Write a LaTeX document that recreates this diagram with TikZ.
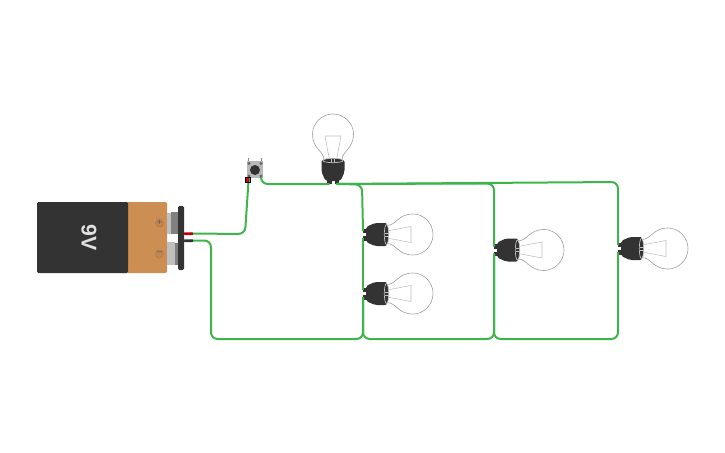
\documentclass[tikz,border=0pt]{standalone}
\usepackage{fontspec}
\setmainfont{Liberation Sans}
\definecolor{wiregreen}{HTML}{3DB54A}
\definecolor{socket}{HTML}{333333}
\definecolor{battorange}{HTML}{CD8E54}
\definecolor{glassline}{HTML}{A0A0A0}
\tikzset{
  wire/.style={draw=wiregreen, line width=1.5pt, rounded corners=5pt},
  glass/.style={draw=glassline, line width=.45pt},
  filament/.style={draw=glassline!70, line width=.4pt},
  terminal/.style={circle, draw=battorange!85!black, fill=battorange!95!black, minimum size=6pt, inner sep=0pt, font=\fontsize{7pt}{7pt}\selectfont, text=black!65},
  bulb/.pic={
    \fill [socket] (0,-6) rectangle (5,-1.5);
    \fill [socket] (0,1.5) rectangle (5,6);
    \fill [socket, rounded corners=1.5pt] (3,-7.5) -- (12,-11.5) -- (24,-11.5) -- (24,11.5) -- (12,11.5) -- (3,7.5) -- cycle;
    \draw [glass] (24,-9) .. controls (33,-9) and (35,-20.5) .. (50,-20.5)
      .. controls (61,-20.5) and (70,-11) .. (70,0)
      .. controls (70,11) and (61,20.5) .. (50,20.5)
      .. controls (35,20.5) and (33,9) .. (24,9);
    \draw [filament] (24,-3.5) -- (48,-8) -- (48,8) -- (24,3.5);
    \draw [draw=white!75!black, line width=.5pt, fill=socket] (23.5,0) ellipse (2.2 and 10);
    \draw [draw=white!75!black, line width=.4pt] (21.5,-1.5) -- (25.5,-1.5) (21.5,1.5) -- (25.5,1.5);
    \coordinate (-a) at (0,-3.5);
    \coordinate (-b) at (0,3.5);
  }
}
\begin{document}
\begin{tikzpicture}[x=.75pt, y=-.75pt]
  \useasboundingbox (0,0) rectangle (725,453);

  % battery
  \fill [battorange, rounded corners=1pt] (120,202) rectangle (167,273);
  \fill [socket, rounded corners=1pt] (37,202) -- (128,202) -- (128,273) -- (37,273) -- cycle;
  \node [rotate=-90, text=white!88!black, font=\bfseries\fontsize{16pt}{17pt}\selectfont, inner sep=0pt] (label) at (89,238) {9V};
  \node [terminal] (plus) at (159.5,223) {+};
  \node [terminal] (minus) at (159.5,254) {−};
  \fill [black!25] (167,213) rectangle (171,234);
  \fill [black!50] (171,212) rectangle (178,234);
  \fill [black!25] (167,242) rectangle (175,265);
  \fill [black!50] (175,243) rectangle (178,265);
  \fill [socket, rounded corners=1pt] (178,206) rectangle (184,270);
  \coordinate (pos) at (190,233.5);
  \coordinate (neg) at (190,240.5);

  % push button
  \fill [black!45] (248,158) rectangle (249,162) (261,158) rectangle (262,162);
  \fill [black!28] (247,161) rectangle (263,178);
  \fill [socket] (255,170) circle (5);
  \fill [black!60] (249,163.5) circle (1.6) (261,163.5) circle (1.6) (249,176) circle (1.6) (261,176) circle (1.6);
  \coordinate (swin) at (248.5,181);
  \coordinate (swout) at (261,178);

  % lamps
  \pic (l1) [rotate=90] at (333,184) {bulb};
  \pic (l2) at (363,234.5) {bulb};
  \pic (l3) at (363,293.5) {bulb};
  \pic (l4) at (494,250) {bulb};
  \pic (l5) at (618,248.5) {bulb};

  % wires
  \draw [wire] (pos) -- (245,234) -- (swin);
  \draw [wire] (neg) -- (211,240.5) -- (211,339) -- (363,339) -- (l3-b);
  \draw [wire] (swout) -- (261,184) -- (l1-a);
  \draw [wire] (l1-b) -- (362,184.5) -- (l2-a);
  \draw [wire] (l2-b) -- (l3-a);
  \draw [wire] (l3-b) -- (363,339) -- (494,339) -- (l4-b);
  \draw [wire] (l1-b) -- (494,183.5) -- (l4-a);
  \draw [wire] (l1-b) -- (618,182) -- (l5-a);
  \draw [wire] (l4-b) -- (494,339) -- (618,339) -- (l5-b);

  % wire ends at the battery and the button
  \fill [red!75!black, rounded corners=.5pt] (184,232.3) rectangle (193,235);
  \fill [socket, rounded corners=.5pt] (184,239.3) rectangle (193,242);
  \fill [black] (245,177) rectangle (251,183);
  \fill [red!85!black] (246,178) rectangle (248.5,182);
  \fill [wiregreen] (248.5,178) rectangle (250,182);
\end{tikzpicture}
\end{document}
